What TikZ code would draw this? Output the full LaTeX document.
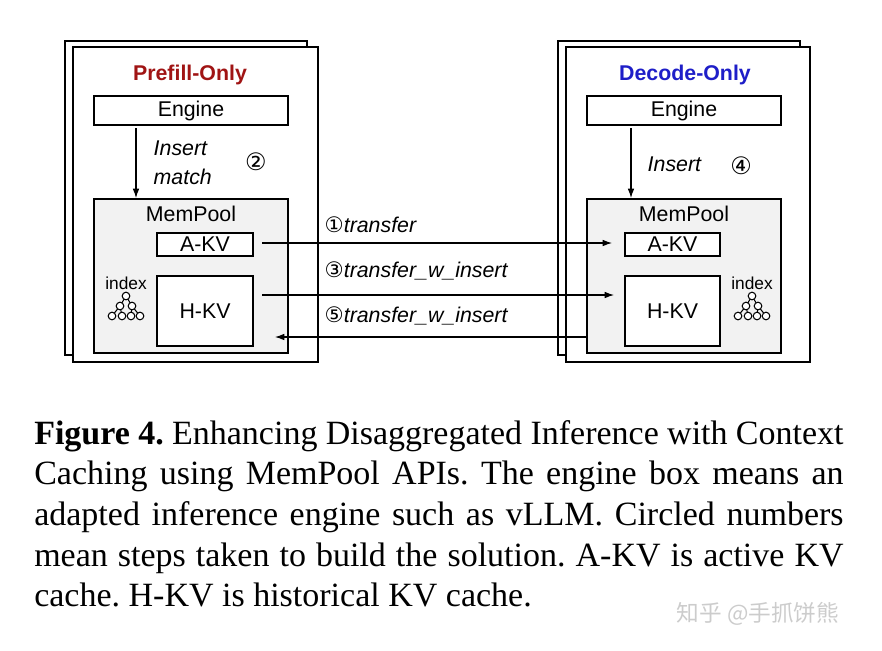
\documentclass[tikz,border=0pt]{standalone}
\usepackage{fontspec}
\usetikzlibrary{arrows.meta}
\setmainfont{Liberation Serif}
\newfontfamily\dsans{Liberation Sans}
\newfontfamily\dju{DejaVu Sans}
\newfontfamily\cjk{Noto Sans CJK SC}
\definecolor{pred}{RGB}{160,20,20}
\definecolor{dblue}{RGB}{30,30,200}
\begin{document}
\begin{tikzpicture}[x=0.75pt,y=-0.75pt,
  lbl/.style={font=\dsans\fontsize{16}{19}\selectfont},
  ilbl/.style={font=\dsans\itshape\fontsize{16}{22}\selectfont},
  box/.style={draw,line width=0.9pt,fill=white},
  arr/.style={-{Latex[length=7pt,width=5pt]},line width=0.8pt},
  circ/.style={font=\dju\fontsize{18}{20}\selectfont}]
\useasboundingbox (0,0) rectangle (882,650);
% left
\draw[box] (65,41) rectangle (307,355);
\draw[box] (73,47) rectangle (318,362);
\node[font=\dsans\bfseries\fontsize{16}{19}\selectfont,text=pred] (pt) at (190,75) {Prefill-Only};
\node[box,lbl,minimum width=194*0.75pt,minimum height=29*0.75pt,inner sep=0pt] (le) at (191,110.5) {Engine};
\draw[box,fill=gray!10] (94,199) rectangle (288,353);
\node[lbl] (lm) at (191,214) {MemPool};
\node[box,lbl,minimum width=96*0.75pt,minimum height=23*0.75pt,inner sep=0pt] (la) at (205,244.5) {A-KV};
\node[box,lbl,minimum width=96*0.75pt,minimum height=70*0.75pt,inner sep=0pt] (lh) at (205,311) {H-KV};
\node[font=\dsans\fontsize{13}{15}\selectfont] (li) at (126,283) {index};
\coordinate (lt) at (126,296);
\coordinate (ltop) at (136,128);
\coordinate (lbot) at (136,198);
\draw[arr] (ltop) -- (lbot);
\node[ilbl,align=left,anchor=west] (lim) at (149,163) {Insert\\match};
\node[circ] (c2) at (256,162) {②};
% right
\draw[box] (558,41) rectangle (800,355);
\draw[box] (566,47) rectangle (810,362);
\node[font=\dsans\bfseries\fontsize{16}{19}\selectfont,text=dblue] (dt) at (685,75) {Decode-Only};
\node[box,lbl,minimum width=194*0.75pt,minimum height=29*0.75pt,inner sep=0pt] (re) at (684,110.5) {Engine};
\draw[box,fill=gray!10] (587,199) rectangle (781,353);
\node[lbl] (rm) at (684,214) {MemPool};
\node[box,lbl,minimum width=95*0.75pt,minimum height=23*0.75pt,inner sep=0pt] (ra) at (672.5,244.5) {A-KV};
\node[box,lbl,minimum width=95*0.75pt,minimum height=70*0.75pt,inner sep=0pt] (rh) at (672.5,311) {H-KV};
\node[font=\dsans\fontsize{13}{15}\selectfont] (ri) at (752,283) {index};
\coordinate (rt) at (752,296);
\coordinate (rtop) at (631,128);
\coordinate (rbot) at (631,198);
\draw[arr] (rtop) -- (rbot);
\node[ilbl,anchor=west] (ri2) at (643,164) {Insert};
\node[circ] (c4) at (741,166) {④};
% index trees
\foreach \c in {lt,rt}{
  \begin{scope}[shift={(\c)},line width=0.8pt]
    \draw (0,0) -- (-6,10) (0,0) -- (6,10) (-6,10) -- (-14,20) (-6,10) -- (-4,20) (6,10) -- (5,20) (6,10) -- (14,20);
    \foreach \p in {(0,0),(-6,10),(6,10),(-14,20),(-4,20),(5,20),(14,20)} \draw[fill=white] \p circle (3.8);
  \end{scope}}
% connectors
\coordinate (a1s) at (262,243); \coordinate (a1e) at (612,243);
\coordinate (a3s) at (262,295); \coordinate (a3e) at (614,295);
\coordinate (a5s) at (586,337); \coordinate (a5e) at (275,337);
\draw[arr] (a1s) -- (a1e);
\draw[arr] (a3s) -- (a3e);
\draw[arr] (a5s) -- (a5e);
\node[anchor=west,ilbl] (t1) at (320,225) {{\dju\upshape ①}transfer};
\node[anchor=west,ilbl] (t3) at (320,271) {{\dju\upshape ③}transfer\_w\_insert};
\node[anchor=west,ilbl] (t5) at (320,316) {{\dju\upshape ⑤}transfer\_w\_insert};
% caption
\node[anchor=north west,inner sep=0pt] (cap) at (34,420) {\begin{minipage}{607pt}\fontsize{25.5}{30.5}\selectfont\frenchspacing\hyphenpenalty=10000\emergencystretch=50pt\noindent\textbf{Figure 4.} Enhancing Disaggregated Inference with Context\linebreak Caching using MemPool APIs. The engine box means an\linebreak adapted inference engine such as vLLM. Circled numbers\linebreak mean steps taken to build the solution. A-KV is active KV\linebreak cache. H-KV is historical KV cache.\end{minipage}};
\node[anchor=west,text=gray!40,font=\cjk\fontsize{17}{19}\selectfont] (wm) at (672,614) {知乎 @手抓饼熊};
\end{tikzpicture}
\end{document}
